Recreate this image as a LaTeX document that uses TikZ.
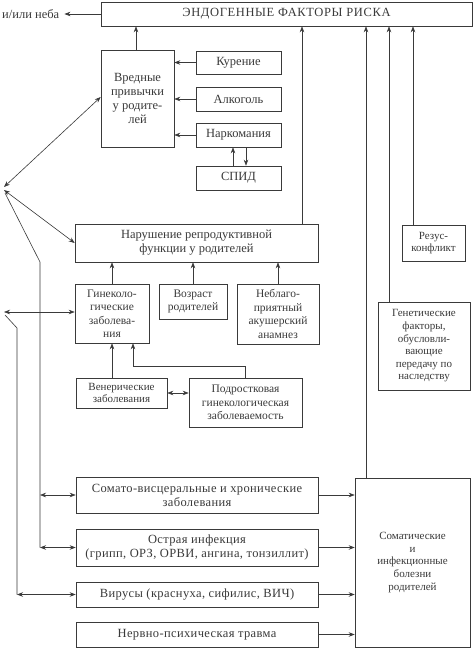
\documentclass[tikz,border=0pt]{standalone}
\usepackage{fontspec}
\setmainfont{Liberation Serif}
\usetikzlibrary{arrows.meta}
\definecolor{ink}{HTML}{3A3A3A}
\newcommand\fs{\fontsize{12.5}{14}\selectfont}
\newcommand\fsm{\fontsize{11.5}{13.5}\selectfont}
\newcommand\fss{\fontsize{11}{12.6}\selectfont}
\newcommand\wide{\addfontfeatures{LetterSpace=3}}
\begin{document}
\begin{tikzpicture}[x=1pt,y=-1pt,
  box/.style={draw=ink, line width=0.6pt, align=center, inner sep=1pt, font=\fs, text=ink},
  arr/.style={draw=ink, line width=0.6pt, -{Stealth[length=6pt,width=4.5pt]}},
  darr/.style={draw=ink, line width=0.6pt, {Stealth[length=6pt,width=4.5pt]}-{Stealth[length=6pt,width=4.5pt]}},
  ln/.style={draw=ink, line width=0.6pt}]
\useasboundingbox[fill=white] (0,0) rectangle (474,650);

% boxes
\node[box, minimum width=371pt, minimum height=24pt] (top) at (286.5,14) {\addfontfeatures{LetterSpace=5}ЭНДОГЕННЫЕ ФАКТОРЫ РИСКА};
\node[font=\fs, text=ink, anchor=west, inner sep=0pt] (neba) at (2,14) {и/или неба};
\node[box, minimum width=73pt, minimum height=97pt] (vred) at (137.5,98.5) {Вредные\\привычки\\у родите-\\лей};
\node[box, minimum width=85pt, minimum height=23pt] (kur) at (238.5,62.5) {Курение};
\node[box, minimum width=85pt, minimum height=24pt] (alk) at (238.5,99) {Алкоголь};
\node[box, minimum width=85pt, minimum height=24pt] (nark) at (238.5,135) {Наркомания};
\node[box, minimum width=85pt, minimum height=24pt] (spid) at (238.5,178) {СПИД};
\node[box, minimum width=243pt, minimum height=38pt] (narush) at (196.5,243) {Нарушение репродуктивной\\функции у родителей};
\node[box, minimum width=74pt, minimum height=59pt, font=\fsm] (gin) at (112,313.5) {Гинеколо-\\гические\\заболева-\\ния};
\node[box, minimum width=68pt, minimum height=35pt, font=\fsm] (voz) at (193,301.5) {Возраст\\родителей};
\node[box, minimum width=82pt, minimum height=60pt, font=\fsm] (neb) at (278,314) {Неблаго-\\приятный\\акушерский\\анамнез};
\node[box, minimum width=91pt, minimum height=30pt, font=\fss] (ven) at (121.5,393) {Венерические\\заболевания};
\node[box, minimum width=113pt, minimum height=49pt, font=\fsm] (pod) at (245.5,402.5) {Подростковая\\гинекологическая\\заболеваемость};
\node[box, minimum width=63pt, minimum height=36pt, font=\fss] (rez) at (433.5,243) {Резус-\\конфликт};
\node[box, minimum width=92pt, minimum height=88pt, font=\fss] (gen) at (424,346) {Генетические\\факторы,\\обусловли-\\вающие\\передачу по\\наследству};
\node[box, minimum width=115pt, minimum height=169pt, font=\fss] (som) at (412.5,562.5) {Соматические\\и\\инфекционные\\болезни\\родителей};
\node[box, minimum width=242pt, minimum height=36pt] (somato) at (197,495) {\wide Сомато-висцеральные и хронические\\\wide заболевания};
\node[box, minimum width=242pt, minimum height=37pt] (ostr) at (197,547.5) {\wide Острая инфекция\\\wide (грипп, ОРЗ, ОРВИ, ангина, тонзиллит)};
\node[box, minimum width=242pt, minimum height=25pt] (vir) at (197,594.5) {\wide Вирусы (краснуха, сифилис, ВИЧ)};
\node[box, minimum width=242pt, minimum height=25pt] (nerv) at (197,634.5) {\wide Нервно-психическая травма};

% coordinates on the left
\coordinate (L1a) at (4,187);
\coordinate (L1b) at (4,190);
\coordinate (L1c) at (5,193);
\coordinate (K1) at (40,262);
\coordinate (L2a) at (4,312);
\coordinate (L2b) at (5,315);
\coordinate (K2) at (17,328);

% to the top box
\draw[arr] (top.west) -- ([xshift=5pt]neba.east);
\draw[arr] (vred.north -| 136,0) -- (top.south -| 136,0);
\draw[arr] (narush.north -| 302,0) -- (top.south -| 302,0);
\draw[arr] (som.north -| 366,0) -- (top.south -| 366,0);
\draw[arr] (gen.north -| 389,0) -- (top.south -| 389,0);
\draw[arr] (rez.north -| 413,0) -- (top.south -| 413,0);

% habits
\draw[arr] (kur.west) -- (kur.west -| vred.east);
\draw[arr] (alk.west) -- (alk.west -| vred.east);
\draw[arr] (nark.west) -- (nark.west -| vred.east);
\draw[arr] (spid.north -| 233,0) -- (nark.south -| 233,0);
\draw[arr] (nark.south -| 246,0) -- (spid.north -| 246,0);

% reproductive
\draw[arr] (gin.north) -- (gin.north |- narush.south);
\draw[arr] (voz.north) -- (voz.north |- narush.south);
\draw[arr] (neb.north) -- (neb.north |- narush.south);
\draw[arr] (ven.north -| gin.south) -- (gin.south);
\draw[arr] (pod.north) -- ++(0,-11) -| ([xshift=21pt]gin.south);
\draw[darr] (ven.east) -- (ven.east -| pod.west);

% left connectors
\draw[darr] (L1a) -- ([yshift=1.5pt]vred.west);
\draw[darr] (L1b) -- (narush.west);
\draw[ln] (L1c) -- (K1) -- (K1 |- ostr.west);
\draw[darr] (K1 |- somato.west) -- (somato.west);
\draw[darr] (K1 |- ostr.west) -- (ostr.west);
\draw[darr] (L2a) -- (L2a -| gin.west);
\draw[ln] (L2b) -- (K2) -- (K2 |- vir.west);
\draw[darr] (K2 |- vir.west) -- (vir.west);

% to somatic diseases
\draw[arr] (somato.east) -- (somato.east -| som.west);
\draw[arr] (ostr.east) -- (ostr.east -| som.west);
\draw[arr] (vir.east) -- (vir.east -| som.west);
\draw[arr] (nerv.east) -- (nerv.east -| som.west);
\end{tikzpicture}
\end{document}
